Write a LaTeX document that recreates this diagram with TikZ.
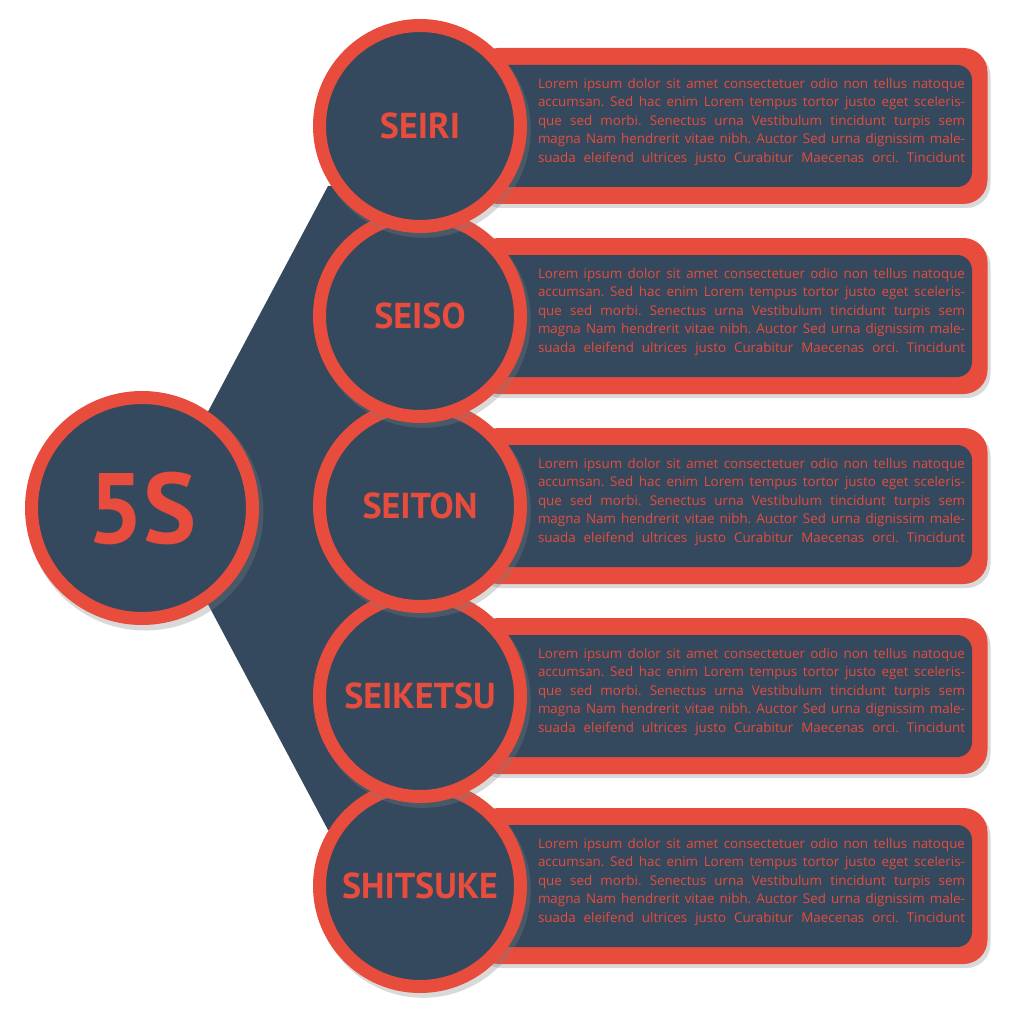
\documentclass[tikz,border=0pt]{standalone}
\usepackage{fontspec}
\setmainfont{PT Sans}
\newfontfamily\loremfont{Open Sans}
\usetikzlibrary{positioning}
\usetikzlibrary{shadows}
\definecolor{redS}{HTML}{E74C3C}
\definecolor{navyS}{HTML}{34495E}
\newcommand{\loremlines}{\frenchspacing\parfillskip=0pt
Lorem ipsum dolor sit amet consectetuer odio non tellus natoque\linebreak
accumsan. Sed hac enim Lorem tempus tortor justo eget sceleris-\linebreak
que sed morbi. Senectus urna Vestibulum tincidunt turpis sem\linebreak
magna Nam hendrerit vitae nibh. Auctor Sed urna dignissim male-\linebreak
suada eleifend ultrices justo Curabitur Maecenas orci. Tincidunt\par}

\begin{document}
\begin{tikzpicture}[x=1pt,y=-1pt,node distance=190pt]
	\tikzstyle{frame}=[rectangle,rounded corners=24pt,fill=redS,minimum width=513pt,minimum height=156pt,
		drop shadow={opacity=0.3,shadow xshift=3pt,shadow yshift=-4pt}]
	\tikzstyle{panel}=[rectangle,rounded corners=15pt,fill=navyS,minimum width=482pt,minimum height=122pt]
	\tikzstyle{lorem}=[text width=427pt,inner sep=0pt,align=justify,text=redS,
		font=\loremfont\fontsize{13.4}{18.5}\selectfont]
	\tikzstyle{ring}=[circle,draw=redS,line width=13pt,fill=navyS,minimum size=201pt,inner sep=0pt,
		text=redS,font=\bfseries\fontsize{36}{36}\selectfont,
		drop shadow={opacity=0.3,shadow scale=1.07,shadow xshift=3pt,shadow yshift=-4pt}]
	
	\useasboundingbox (0,0) rectangle (1024,1024);
	
	% fan behind the circles
	\fill[navyS] (328,186) -- (194,438) -- (194,578) -- (328,830) -- (420,830) -- (420,186) -- cycle;
	
	\node[frame] (B_1) at (731,126) {};
	\node[frame] (B_2) [below of=B_1] {};
	\node[frame] (B_3) [below of=B_2] {};
	\node[frame] (B_4) [below of=B_3] {};
	\node[frame] (B_5) [below of=B_4] {};
	
	\foreach \i in {1,...,5}{
		\node[panel] (P_\i) at (B_\i) {};
		\node[lorem,left=7pt of P_\i.east,yshift=4pt] (T_\i) {\loremlines};
	}
	
	\node[ring] (C_5) [left of=B_5,node distance=311pt] {SHITSUKE};
	\node[ring] (C_4) [above of=C_5] {SEIKETSU};
	\node[ring] (C_3) [above of=C_4] {SEITON};
	\node[ring] (C_2) [above of=C_3] {SEISO};
	\node[ring] (C_1) [above of=C_2] {SEIRI};
	
	\node[ring,minimum size=221pt,font=\bfseries\fontsize{100}{100}\selectfont] (S) at (142,508) {5S};
\end{tikzpicture}
\end{document}
